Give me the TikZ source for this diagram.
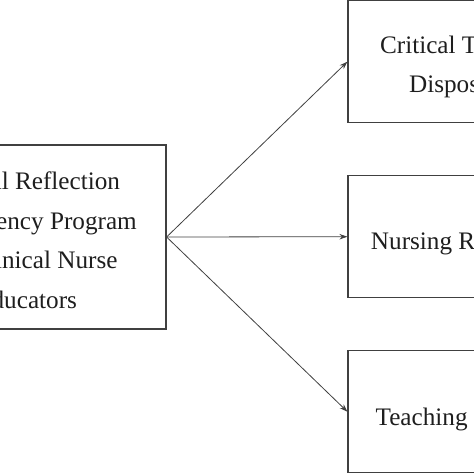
\documentclass[tikz,border=0pt]{standalone}
\usepackage{fontspec}
\setmainfont{Liberation Serif}
\usetikzlibrary{arrows.meta}
\definecolor{linegray}{HTML}{404040}
\definecolor{textgray}{HTML}{1E1E1E}

\begin{document}
\begin{tikzpicture}[x=1pt, y=-1pt,
    box/.style={rectangle, draw=linegray, line width=1.2pt, inner sep=0pt},
    txt/.style={anchor=base, align=center, text=textgray, inner sep=0pt, font=\fontsize{25.2}{39.6}\selectfont},
    arr/.style={draw=linegray, line width=0.8pt, -{Stealth[length=8pt, width=5.5pt]}}]
    \useasboundingbox (0,0) rectangle (474,474);
    \clip (0,0) rectangle (474,474);

    % Nodes
    \node[box, minimum width=279pt, minimum height=184pt] (prog) at (26.5,237) {};
    \node[box, minimum width=238pt, minimum height=122pt] (ctd) at (467,61.7) {};
    \node[box, minimum width=238pt, minimum height=122pt] (nr) at (467,236.7) {};
    \node[box, minimum width=238pt, minimum height=122pt] (te) at (467,411.7) {};

    % Texts (base = last line)
    \node[txt] (progtxt) at (26.6,308.3) {Critical Reflection\\Competency Program\\for Clinical Nurse\\Educators};
    \node[txt, font=\fontsize{25.2}{38.6}\selectfont] (ctdtxt) at (467.2,92.4) {Critical Thinking\\Disposition};
    \node[txt] (nrtxt) at (467.2,249.3) {Nursing Reflection};
    \node[txt] (tetxt) at (467.2,425) {Teaching Efficacy};

    % Arrows
    \draw[arr] (prog.east) -- (ctd.west);
    \draw[arr] (prog.east) -- (nr.west);
    \draw[arr] (prog.east) -- (te.west);
\end{tikzpicture}
\end{document}
